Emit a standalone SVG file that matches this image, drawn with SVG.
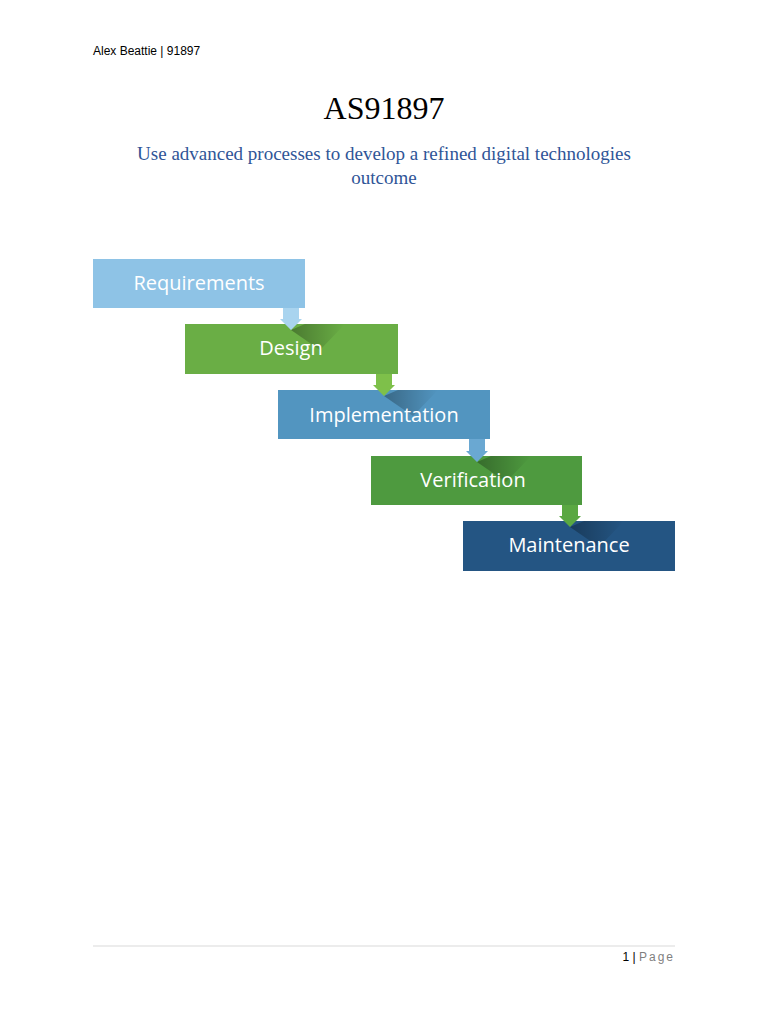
<svg xmlns="http://www.w3.org/2000/svg" width="768" height="1024" viewBox="0 0 768 1024">
<style>
.lbl{font-family:"Open Sans","Liberation Sans",sans-serif;font-size:20px;fill:#fff;text-anchor:middle}
.hdr{font-family:"Liberation Sans",sans-serif;font-size:12px;fill:#000}
</style>
<defs>
<linearGradient id="sh" x1="0" y1="0" x2="1" y2="0"><stop offset="0" stop-color="#000" stop-opacity="0.3"/><stop offset="1" stop-color="#000" stop-opacity="0"/></linearGradient>
</defs>
<rect width="768" height="1024" fill="#fff"/>
<text class="hdr" x="93" y="55">Alex Beattie | 91897</text>
<text x="384" y="119" text-anchor="middle" font-family="Liberation Serif,serif" font-size="32">AS91897</text>
<text x="384" y="160" text-anchor="middle" font-family="Liberation Serif,serif" font-size="19" fill="#2f5597">Use advanced processes to develop a refined digital technologies</text>
<text x="384" y="184" text-anchor="middle" font-family="Liberation Serif,serif" font-size="19" fill="#2f5597">outcome</text>
<g id="requirements"><rect x="93" y="259" width="212" height="49" fill="#8ec3e6"/><text class="lbl" x="199" y="290">Requirements</text></g>
<g id="design"><rect x="185" y="324" width="213" height="50" fill="#6aae45"/><polygon points="291,330 305,324 345,324 320,350" fill="url(#sh)"/><text class="lbl" x="291" y="355">Design</text></g>
<g id="implementation"><rect x="278" y="390" width="212" height="49" fill="#5295c0"/><polygon points="384,396 398,390 438,390 413,416" fill="url(#sh)"/><text class="lbl" x="384" y="422">Implementation</text></g>
<g id="verification"><rect x="371" y="456" width="211" height="49" fill="#4e9a3f"/><polygon points="477,462 491,456 531,456 506,482" fill="url(#sh)"/><text class="lbl" x="473" y="487">Verification</text></g>
<g id="maintenance"><rect x="463" y="521" width="212" height="50" fill="#245583"/><polygon points="570,527 584,521 624,521 599,547" fill="url(#sh)"/><text class="lbl" x="569" y="552">Maintenance</text></g>
<g id="connectors">
<polygon points="283,308 299,308 299,319 302,319 291,330 280,319 283,319" fill="#a9d4ef"/>
<polygon points="376,374 392,374 392,385 395,385 384,396 373,385 376,385" fill="#7ec04a"/>
<polygon points="469,439 485,439 485,451 488,451 477,462 466,451 469,451" fill="#6aa8d2"/>
<polygon points="562,505 578,505 578,516 581,516 570,527 559,516 562,516" fill="#5aa842"/>
</g>
<line x1="93" y1="946" x2="675" y2="946" stroke="#d9d9d9" stroke-width="1"/>
<text class="hdr" x="675" y="961" text-anchor="end">1 | <tspan fill="#7f7f7f" letter-spacing="2">Page</tspan></text>
</svg>
